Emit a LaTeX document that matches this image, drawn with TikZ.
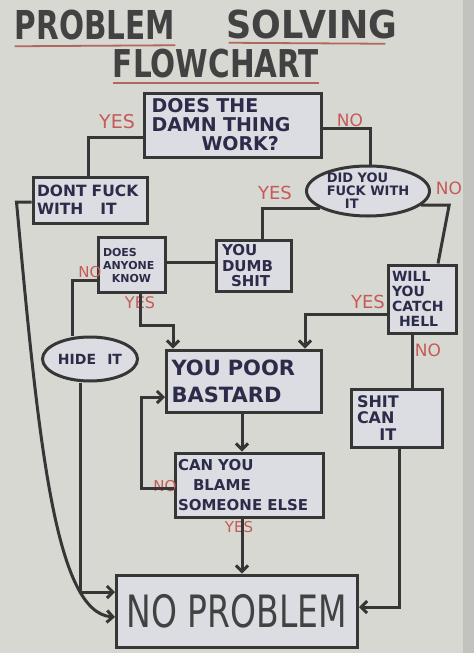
\documentclass[tikz,border=0pt]{standalone}
\usepackage{fontspec}
\setmainfont{DejaVu Sans}
\usepackage{xcolor}
\usepackage{tikz}
\usetikzlibrary{shapes.geometric,arrows.meta}

\definecolor{paper}{HTML}{D7D8D2}
\definecolor{wall}{HTML}{C2C3BE}
\definecolor{card}{HTML}{DCDDE2}
\definecolor{ink}{HTML}{363636}
\definecolor{pen}{HTML}{2C2C4A}
\definecolor{mark}{HTML}{C65A58}
\definecolor{chalk}{HTML}{424242}
\definecolor{rule}{HTML}{B0685E}

\newcommand{\hand}[2]{\fontsize{#1}{#2}\selectfont\bfseries}

\begin{document}
\begin{tikzpicture}[x=1pt, y=-1pt,
    box/.style={draw=ink, line width=3pt, fill=card, text=pen, inner sep=3pt},
    oval/.style={box, ellipse, inner sep=-3pt},
    answer/.style={text=mark, inner sep=0pt, font=\fontsize{17}{17}\selectfont},
    heading/.style={text=chalk, inner sep=0pt},
    link/.style={draw=ink, line width=3pt},
    underline/.style={draw=rule, line width=1.8pt},
    >={Straight Barb[length=6pt, width=12pt]}
]
% paper
\fill[paper] (0,0) rectangle (474,653);
\fill[wall] (463,0) rectangle (474,653);
\useasboundingbox (0,0) rectangle (474,653);

% title
\node[heading, font=\hand{29.5}{30}] (t1) at (95,25) {\scalebox{1}[1.35]{PROBLEM}};
\node[heading, font=\hand{35}{35}] (t2) at (312,24) {\scalebox{1}[1.1]{SOLVING}};
\node[heading, font=\hand{29.5}{30}] (t3) at (216,64) {\scalebox{1}[1.3]{FLOWCHART}};
\draw[underline] ([yshift=-6pt]t1.south west) -- ([yshift=-5pt]t1.south east);
\draw[underline] ([yshift=-4pt,xshift=2pt]t2.south west) -- ([yshift=-5pt,xshift=-12pt]t2.south east);
\draw[underline] ([yshift=-4pt]t3.south west) -- ([yshift=-4pt]t3.south east);

% boxes
\node[box, minimum width=177pt, minimum height=64pt, text width=163pt, align=left, font=\hand{19}{19}]
    (work) at (233,125) {DOES THE\\DAMN THING\\\hspace*{50pt}WORK?};
\node[box, minimum width=114pt, minimum height=46pt, text width=106pt, align=left, font=\hand{15.5}{18}]
    (dfwi) at (90,200) {DONT FUCK\\WITH\hspace{1.1em}IT};
\node[oval, minimum width=123pt, minimum height=50pt, align=left, font=\hand{13}{13}]
    (dyfwi) at (368,191) {DID YOU\\FUCK WITH\\\hspace*{1.4em}IT};
\node[box, minimum width=75pt, minimum height=51pt, text width=64pt, align=left, font=\hand{15}{15.5}]
    (ydsh) at (254,266) {YOU\\DUMB\\\hspace*{0.6em}SHIT};
\node[box, minimum width=67pt, minimum height=55pt, text width=58pt, align=left, font=\hand{11}{13}]
    (dak) at (132,265) {DOES\\ANYONE\\\hspace*{0.8em}KNOW};
\node[oval, minimum width=95pt, minimum height=44pt, font=\hand{14}{14}]
    (hide) at (90,359) {HIDE\hspace{0.8em}IT};
\node[box, minimum width=68pt, minimum height=68pt, text width=60pt, align=left, font=\hand{14}{15}]
    (wych) at (422,299) {WILL\\YOU\\CATCH\\\hspace*{0.5em}HELL};
\node[box, minimum width=91pt, minimum height=58pt, text width=80pt, align=left, font=\hand{16}{16.5}]
    (shit) at (397,418) {SHIT\\CAN\\\hspace*{1.4em}IT};
\node[box, minimum width=155pt, minimum height=62pt, text width=145pt, align=left, font=\hand{21}{27}]
    (ypb) at (244,381) {YOU POOR\\BASTARD};
\node[box, minimum width=148pt, minimum height=64pt, text width=142pt, align=left, font=\hand{15}{20}]
    (cybse) at (249,485) {CAN YOU\\\hspace*{1em}BLAME\\SOMEONE ELSE};
\node[box, minimum width=241pt, minimum height=72pt, font=\fontsize{33}{33}\selectfont, text=chalk]
    (np) at (237,611) {\scalebox{1}[1.35]{NO PROBLEM}};

% answers
\node[answer, font=\fontsize{19}{19}\selectfont] (yes1) at (117,122) {YES};
\node[answer] (no1) at (350,120) {NO};
\node[answer, font=\fontsize{18}{18}\selectfont] (yes2) at (275,193) {YES};
\node[answer] (no2) at (449,188) {NO};
\node[answer, font=\fontsize{15}{15}\selectfont] (no3) at (90,272) {NO};
\node[answer, font=\fontsize{16}{16}\selectfont] (yes3) at (140,303) {YES};
\node[answer, font=\fontsize{18}{18}\selectfont] (yes4) at (368,302) {YES};
\node[answer] (no4) at (428,350) {NO};
\node[answer, font=\fontsize{15}{15}\selectfont] (no5) at (165,486) {NO};
\node[answer, font=\fontsize{15}{15}\selectfont] (yes5) at (239,527) {YES};

% connectors
\draw[link] ([yshift=-12pt]work.west) -| ([xshift=-2pt]dfwi.north);
\draw[link] ([yshift=-3pt]work.east) -| ([xshift=2pt]dyfwi.north);
\draw[link] (dyfwi.200) -| ([xshift=8pt]ydsh.north);
\draw[link] (dyfwi.-15) -- ++(28,0) -- ([xshift=16pt]wych.north);
\draw[link] ([yshift=3pt]dak.east) -- ([yshift=3pt]dak.east -| ydsh.west);
\draw[link] ([yshift=-15pt]dak.west) -| ([xshift=-18pt]hide.north);
\draw[link, ->] ([xshift=8pt]dak.south) -- ++(0,31) -| ([xshift=-71pt]ypb.north);
\draw[link, ->] ([yshift=-15pt]wych.west) -| ([xshift=61pt]ypb.north);
\draw[link] ([xshift=-10pt]wych.south) -- ([xshift=-10pt]wych.south |- shit.north);
\draw[link, ->] ([xshift=2pt]shit.south) |- ([yshift=4pt]np.east);
\draw[link, ->] ([xshift=-2pt]ypb.south) -- ([xshift=-2pt]ypb.south |- cybse.north);
\draw[link, ->] ([yshift=-3pt]cybse.west) -- ++(-32,0) |- ([yshift=-16pt]ypb.west);
\draw[link, ->] ([xshift=-7pt]cybse.south) -- ([xshift=-7pt]cybse.south |- np.north);
\draw[link, ->] ([xshift=-10pt]hide.south) |- ([yshift=19pt]np.west);
\draw[link, ->] ([yshift=-2pt]dfwi.west) -- ++(-15,0)
    .. controls +(22,240) and +(-60,-4) .. ([yshift=-6pt]np.west);
\end{tikzpicture}
\end{document}
